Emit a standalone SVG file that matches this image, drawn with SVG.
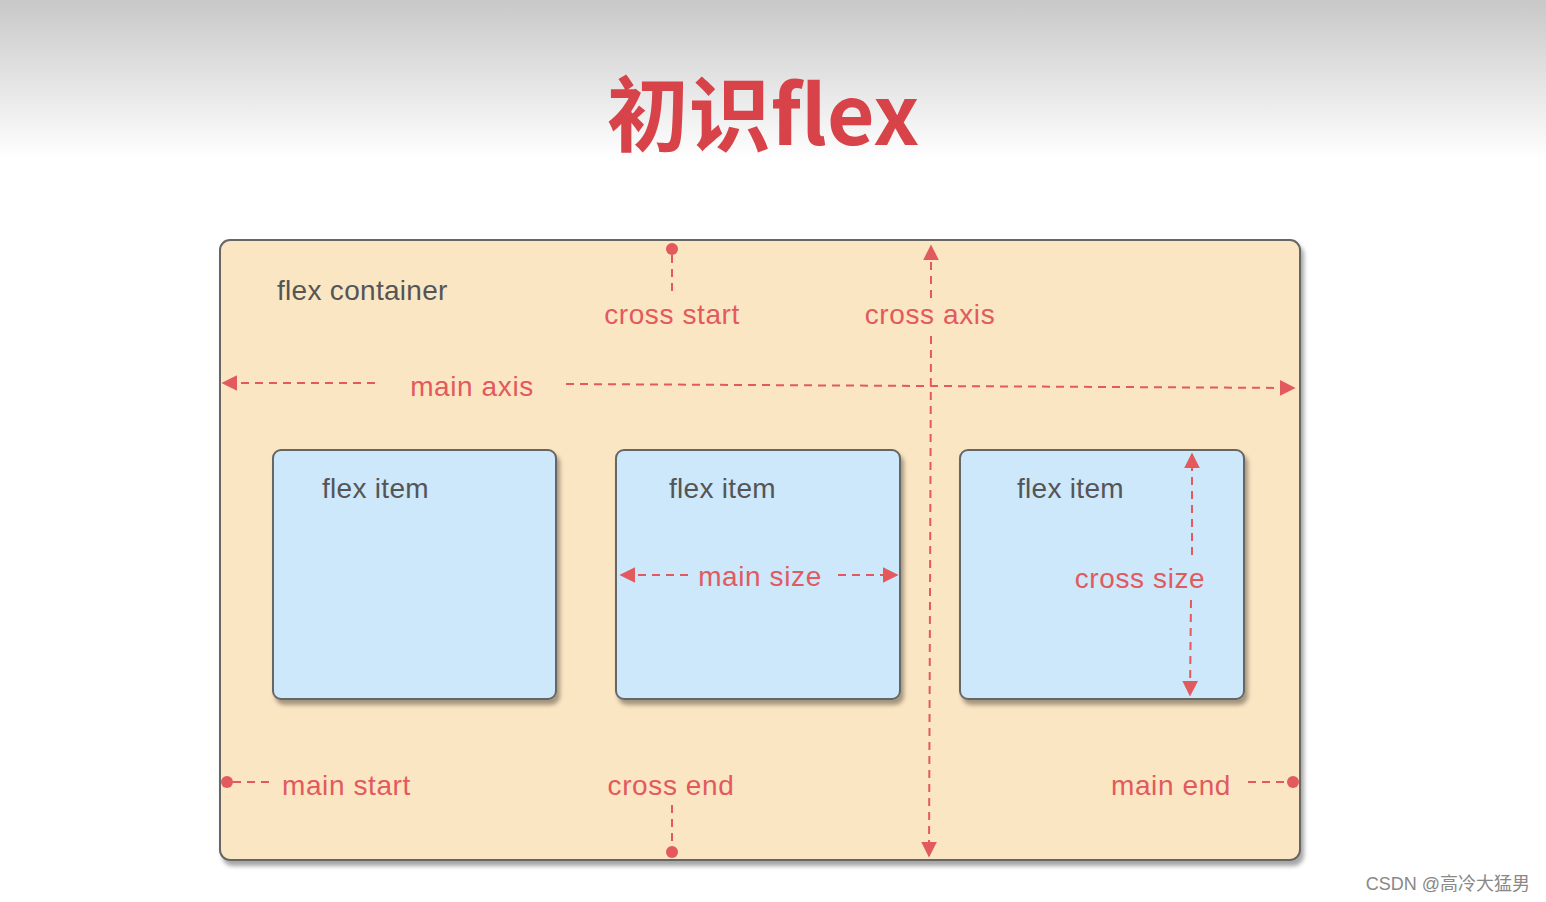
<svg xmlns="http://www.w3.org/2000/svg" width="1546" height="902" viewBox="0 0 1546 902">
<defs>
<linearGradient id="bg" x1="0" y1="0" x2="0" y2="1"><stop offset="0" stop-color="#c8c8c8"/><stop offset="1" stop-color="#ffffff"/></linearGradient>
<filter id="sh" x="-10%" y="-10%" width="120%" height="120%"><feDropShadow dx="3" dy="5" stdDev="4" flood-color="#000" flood-opacity="0.35"/></filter>
<marker id="ah" viewBox="0 0 10 10" refX="9" refY="5" markerWidth="8" markerHeight="8" orient="auto-start-reverse"><path d="M0,0L10,5L0,10z" fill="#e25a5e"/></marker>
<style>
.d{stroke:#e25a5e;stroke-width:2;stroke-dasharray:8,6;fill:none}
.r{fill:#e25a5e;font-family:"Liberation Sans",Arial,sans-serif;font-size:28px;letter-spacing:0.6px}
.g{fill:#555;font-family:"Liberation Sans",Arial,sans-serif;font-size:28px;letter-spacing:0.3px}
.item{fill:#cde7fb;stroke:#666;stroke-width:2}
</style>
</defs>
<rect width="1546" height="160" fill="url(#bg)"/>
<text x="763" y="145" text-anchor="middle" font-family="'Noto Sans CJK SC',sans-serif" font-weight="bold" font-size="82" fill="#d8434a">初识flex</text>
<g id="container"><rect x="220" y="240" width="1080" height="620" rx="10" fill="#fbe6c3" stroke="#666" stroke-width="2" filter="url(#sh)"/>
<text class="g" x="277" y="300">flex container</text></g>
<g id="item1"><rect class="item" x="273" y="450" width="283" height="249" rx="8" filter="url(#sh)"/><text class="g" x="322" y="498">flex item</text></g>
<g id="item2"><rect class="item" x="616" y="450" width="284" height="249" rx="8" filter="url(#sh)"/><text class="g" x="669" y="498">flex item</text></g>
<g id="item3"><rect class="item" x="960" y="450" width="284" height="249" rx="8" filter="url(#sh)"/><text class="g" x="1017" y="498">flex item</text></g>
<g id="connectors">
<circle cx="672" cy="249" r="6" fill="#e25a5e"/><line class="d" x1="672" y1="255" x2="672" y2="295"/>
<line class="d" x1="931" y1="298" x2="931" y2="246" marker-end="url(#ah)"/>
<line class="d" x1="931" y1="336" x2="929" y2="856" marker-end="url(#ah)"/>
<line class="d" x1="375" y1="383" x2="223" y2="383" marker-end="url(#ah)"/>
<line class="d" x1="566" y1="384" x2="1294" y2="388" marker-end="url(#ah)"/>
<line class="d" x1="688" y1="575" x2="621" y2="575" marker-end="url(#ah)"/>
<line class="d" x1="838" y1="575" x2="897" y2="575" marker-end="url(#ah)"/>
<line class="d" x1="1192" y1="555" x2="1192" y2="454" marker-end="url(#ah)"/>
<line class="d" x1="1191" y1="600" x2="1190" y2="695" marker-end="url(#ah)"/>
<circle cx="227" cy="782" r="6" fill="#e25a5e"/><line class="d" x1="233" y1="782" x2="270" y2="782"/>
<line class="d" x1="672" y1="805" x2="672" y2="846"/><circle cx="672" cy="852" r="6" fill="#e25a5e"/>
<line class="d" x1="1248" y1="782" x2="1287" y2="782"/><circle cx="1293" cy="782" r="6" fill="#e25a5e"/>
</g>
<text class="r" x="672" y="324" text-anchor="middle">cross start</text>
<text class="r" x="930" y="324" text-anchor="middle">cross axis</text>
<text class="r" x="472" y="396" text-anchor="middle">main axis</text>
<text class="r" x="760" y="586" text-anchor="middle">main size</text>
<text class="r" x="1140" y="588" text-anchor="middle">cross size</text>
<text class="r" x="282" y="795">main start</text>
<text class="r" x="671" y="795" text-anchor="middle">cross end</text>
<text class="r" x="1231" y="795" text-anchor="end">main end</text>
<text x="1530" y="890" text-anchor="end" font-family="'Liberation Sans','Noto Sans CJK SC',sans-serif" font-size="18" fill="#888">CSDN @高冷大猛男</text>
</svg>
